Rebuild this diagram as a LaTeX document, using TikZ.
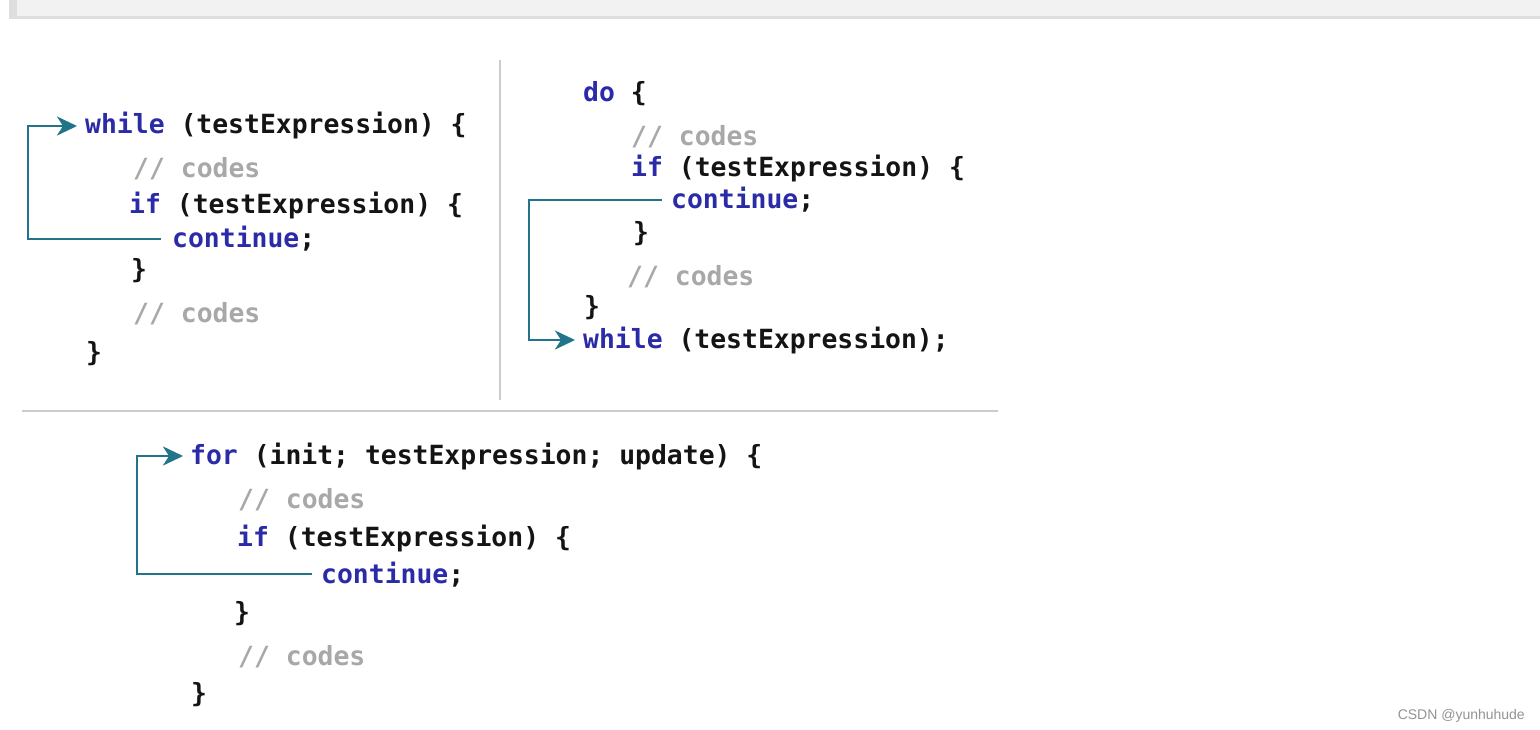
\documentclass[tikz,border=0pt]{standalone}
\usepackage{fontspec}
\setmonofont{DejaVu Sans Mono}
\setsansfont{Liberation Sans}
\usetikzlibrary{arrows.meta}

\definecolor{kwblue}{HTML}{2B2BA8}
\definecolor{cmtgray}{HTML}{A8A8A8}
\definecolor{jumpteal}{HTML}{22748A}
\definecolor{codeblack}{HTML}{141414}

\def\kw#1{\textcolor{kwblue}{#1}}

\begin{document}
\begin{tikzpicture}[x=1pt,y=-1pt]
		\tikzstyle{code line}=[anchor=base west,inner sep=0pt,text=codeblack,font=\ttfamily\bfseries\fontsize{26.4}{30}\selectfont]
		\tikzstyle{comment line}=[code line,text=cmtgray]
		\tikzstyle{jump}=[draw=jumpteal,line width=2.6pt,-{Stealth[length=20pt,width=19pt,inset=6pt]}]
		\tikzstyle{sep line}=[draw=black!20,line width=1.5pt]

		% page and the grey bar on top
		\useasboundingbox (0,0) rectangle (1540,730);
		\fill[white] (0,0) rectangle (1540,730);
		\fill[black!5] (9,0) rectangle (1540,18);
		\fill[black!13] (9,16.5) rectangle (1540,19);
		\fill[black!13] (9,0) rectangle (17,19);

		% separators
		\path[sep line] (500,60) -- (500,400);
		\path[sep line] (22,411) -- (998,411);

		% while loop
		\node[code line] (W-while) at (85,134) {\kw{while} (testExpression) \{};
		\node[comment line] (W-c1) at (133,178) {// codes};
		\node[code line] (W-if) at (129,214) {\kw{if} (testExpression) \{};
		\node[code line] (W-cont) at (172,248) {\kw{continue};};
		\node[code line] (W-r1) at (131,279) {\}};
		\node[comment line] (W-c2) at (133,322) {// codes};
		\node[code line] (W-r2) at (86,361) {\}};

		% do ... while loop
		\node[code line] (D-do) at (583,102) {\kw{do} \{};
		\node[comment line] (D-c1) at (631,146) {// codes};
		\node[code line] (D-if) at (631,177) {\kw{if} (testExpression) \{};
		\node[code line] (D-cont) at (671,209) {\kw{continue};};
		\node[code line] (D-r1) at (633,242) {\}};
		\node[comment line] (D-c2) at (627,286) {// codes};
		\node[code line] (D-r2) at (584,316) {\}};
		\node[code line] (D-while) at (583,348) {\kw{while} (testExpression);};

		% for loop
		\node[code line] (F-for) at (190,464) {\kw{for} (init; testExpression; update) \{};
		\node[comment line] (F-c1) at (238,508) {// codes};
		\node[code line] (F-if) at (237,546) {\kw{if} (testExpression) \{};
		\node[code line] (F-cont) at (321,583) {\kw{continue};};
		\node[code line] (F-r1) at (234,621) {\}};
		\node[comment line] (F-c2) at (238,665) {// codes};
		\node[code line] (F-r2) at (191,702) {\}};

		% the jumps of continue
		\draw[jump] ([xshift=-11pt]W-cont.west) -- ([xshift=-144pt]W-cont.west) |- ([xshift=-8pt]W-while.west);
		\draw[jump] ([xshift=-9pt]D-cont.west) -- ([xshift=-142pt]D-cont.west) |- ([xshift=-8pt]D-while.west);
		\draw[jump] ([xshift=-9pt]F-cont.west) -- ([xshift=-184pt]F-cont.west) |- ([xshift=-7pt]F-for.west);

		\node[anchor=base east,inner sep=0pt,text=black!42,font=\sffamily\fontsize{14}{16}\selectfont] (mark) at (1525,719) {CSDN @yunhuhude};
\end{tikzpicture}
\end{document}
